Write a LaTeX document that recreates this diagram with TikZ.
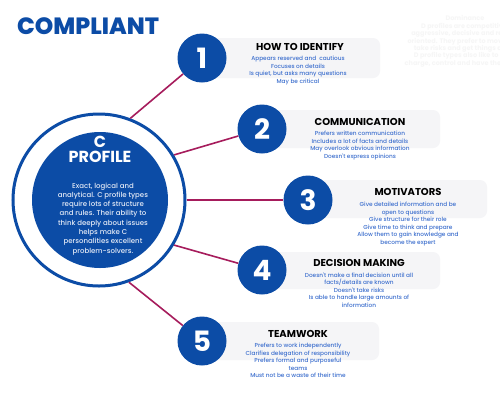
\documentclass[tikz,border=0pt]{standalone}
\usepackage{fontspec}
\setmainfont{Poppins}
\newfontfamily\popx{Poppins ExtraBold}
\newfontfamily\popm{Poppins Medium}
\definecolor{cblue}{RGB}{12,76,166}
\definecolor{crim}{RGB}{166,28,92}
\definecolor{tblue}{RGB}{62,112,206}
\definecolor{boxgray}{RGB}{245,245,247}
\definecolor{ghost}{RGB}{246,246,246}
\definecolor{softwhite}{RGB}{228,234,246}
\tikzset{
  numc/.style={circle, fill=cblue, minimum size=49pt, inner sep=0pt, text=white,
    font=\bfseries\fontsize{28}{28}\selectfont},
  infobox/.style={fill=boxgray, rounded corners=7pt, inner sep=0pt},
  conn/.style={draw=crim, line width=1.6pt},
  ttl/.style={font=\bfseries\fontsize{10}{10}\selectfont, text=black, inner sep=0pt},
  itemtxt/.style={font=\popm\fontsize{5.8}{7.5}\selectfont, text=tblue, align=center, anchor=north, inner sep=0pt}
}
\begin{document}
\begin{tikzpicture}[x=1pt,y=-1pt]
\useasboundingbox (0,0) rectangle (500,400);
\begin{scope}
\clip (0,0) rectangle (500,400);
\fill[white] (0,0) rectangle (500,400);
% ghost text
\node[font=\bfseries\fontsize{6.5}{7.4}\selectfont, text=ghost, align=center, anchor=north, inner sep=0pt] (ghost) at (465,15.5)
 {Dominance\\D profiles are competitive,\\aggressive, decisive and results\\oriented. They prefer to move fast,\\take risks and get things done.\\D profile types also like to be in\\charge, control and have the power.};
\end{scope}

% title
\node[font=\popx\fontsize{23.5}{24}\selectfont, text=cblue, inner sep=0pt] (title) at (88,26.5) {COMPLIANT};

% boxes
\node[infobox, minimum width=175pt, minimum height=40pt] (b1) at (292.5,58) {};
\node[infobox, minimum width=175pt, minimum height=38pt] (b2) at (352.5,129) {};
\node[infobox, minimum width=177pt, minimum height=38pt] (b3) at (398.5,199) {};
\node[infobox, minimum width=175pt, minimum height=37pt] (b4) at (352.5,270.5) {};
\node[infobox, minimum width=174pt, minimum height=38pt] (b5) at (292,341) {};

% main circle
\node[circle, draw=cblue, line width=3pt, minimum size=172pt, inner sep=0pt] (ring) at (99,200) {};
\node[circle, fill=cblue, minimum size=136pt, inner sep=0pt] (core) at (100,200) {};
\node[font=\bfseries\fontsize{16}{15}\selectfont, text=white, align=center, inner sep=0pt] (ctitle) at (100,149.5) {C\\PROFILE};
\node[font=\popm\fontsize{7}{9.3}\selectfont, text=softwhite, align=center, anchor=north, inner sep=0pt] (cbody) at (103,182.5)
 {Exact, logical and\\analytical. C profile types\\require lots of structure\\and rules. Their ability to\\think deeply about issues\\helps make C\\personalities excellent\\problem-solvers.};

% number circles
\node[numc] (n1) at (202,58) {1};
\node[numc] (n2) at (262,129) {2};
\node[numc] (n3) at (308,200) {3};
\node[numc] (n4) at (262,270) {4};
\node[numc] (n5) at (202,341) {5};

% connectors
\draw[conn] (ring.69) -- (n1);
\draw[conn] (ring.31) -- (n2);
\draw[conn] (ring.0) -- (n3);
\draw[conn] (ring.-31) -- (n4);
\draw[conn] (ring.-70) -- (n5);

% box texts
\node[ttl] (t1) at (300,47) {HOW TO IDENTIFY};
\node[itemtxt] (i1) at (298,56.3) {Appears reserved and\ \ cautious\\Focuses on details\\Is quiet, but asks many questions\\May be critical};

\node[ttl] (t2) at (360,122) {COMMUNICATION};
\node[itemtxt] (i2) at (360,131.3) {Prefers written communication\\Includes a lot of facts and details\\May overlook obvious information\\Doesn't express opinions};

\node[ttl] (t3) at (408,192) {MOTIVATORS};
\node[itemtxt] (i3) at (408,202.3) {Give detailed information and be\\open to questions\\Give structure for their role\\Give time to think and prepare\\Allow them to gain knowledge and\\become the expert};

\node[ttl] (t4) at (359,263) {DECISION MAKING};
\node[itemtxt] (i4) at (359,272.3) {Doesn't make a final decision until all\\facts/details are known\\Doesn't take risks\\Is able to handle large amounts of\\information};

\node[ttl] (t5) at (298,334) {TEAMWORK};
\node[itemtxt] (i5) at (298,343.3) {Prefers to work independently\\Clarifies delegation of responsibility\\Prefers formal and purposeful\\teams\\Must not be a waste of their time};
\end{tikzpicture}
\end{document}
